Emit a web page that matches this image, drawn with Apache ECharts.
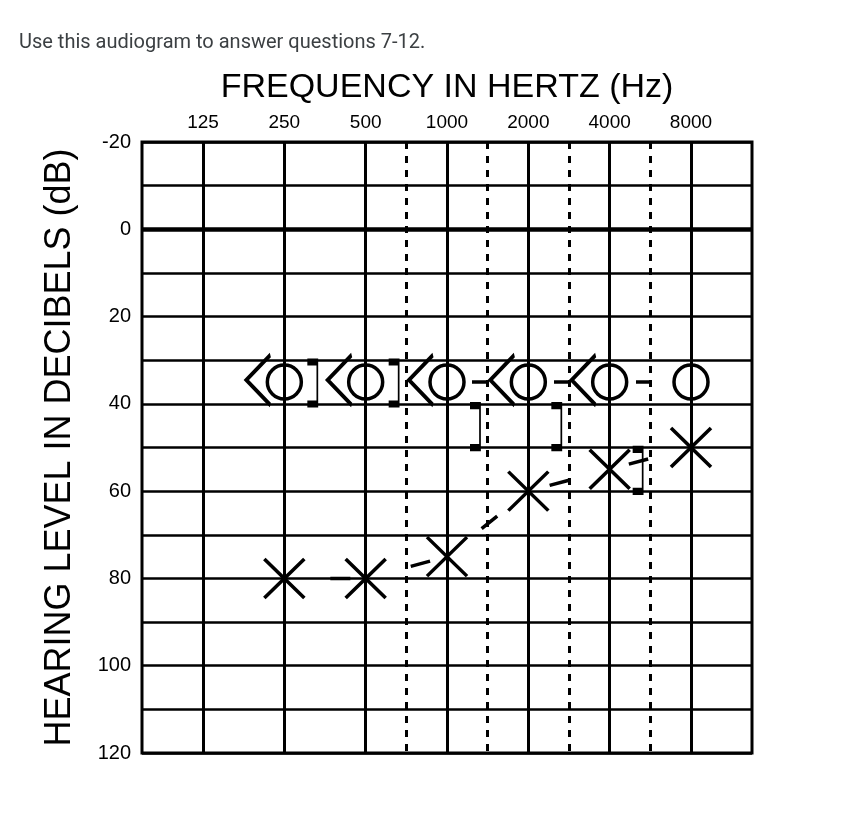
<!DOCTYPE html>
<html>
<head>
<meta charset="utf-8">
<script src="https://cdn.jsdelivr.net/npm/echarts@6/dist/echarts.min.js"></script>
<style>
  html, body { margin: 0; padding: 0; background: #fff; }
  #chart { width: 859px; height: 832px; }
</style>
</head>
<body>
<div id="chart"></div>
<script>
// frequencies, one per octave (x = octave index, 0 = 125 Hz)
var freqLabels = ['125', '250', '500', '1000', '2000', '4000', '8000'];
var octaves = [0, 1, 2, 3, 4, 5, 6];
var halfOctaves = [2.5, 3.5, 4.5, 5.5];   // 750, 1500, 3000, 6000 (dashed)

// hearing level in dB, '-' = not tested
var rightAir = ['-', 35, 35, 35, 35, 35, 35];           // O
var rightAirJoin = ['-', '-', '-', 35, 35, 35, 35];     // visible part of the O line
var rightBone = ['-', 35, 35, 35, 35, 35, '-'];         // <
var leftBoneMasked = ['-', 35, 35, 45, 45, 55, '-'];    // ]
var leftAir = ['-', 80, 80, 75, 60, 55, 50];            // X

function pairs(values) {
    var out = [];
    for (var i = 0; i < values.length; i++) {
        out.push([octaves[i], values[i]]);
    }
    return out;
}

var black = '#000';
var plotFont = "'Liberation Sans', 'DejaVu Sans', sans-serif";
// scatter defaults to 0.8 opacity, symbols here are solid black strokes
var markStyle = { color: 'rgba(0,0,0,0)', borderColor: black, borderWidth: 3.5, opacity: 1 };

var gridLines = [];
octaves.forEach(function (o) {
    gridLines.push({ xAxis: o, lineStyle: { type: 'solid', width: 3, color: black } });
});
halfOctaves.forEach(function (o) {
    gridLines.push({ xAxis: o, lineStyle: { type: [7, 7], width: 3, color: black } });
});
gridLines.push({ yAxis: 0, lineStyle: { type: 'solid', width: 4.5, color: black } });

var myChart = echarts.init(document.getElementById('chart'));

var option = {
    backgroundColor: '#fff',
    animation: false,
    title: {
        text: 'Use this audiogram to answer questions 7-12.',
        left: 19,
        top: 33,
        padding: 0,
        textStyle: {
            fontFamily: 'Roboto',
            fontSize: 20,
            fontWeight: 'normal',
            color: '#3c4043'
        }
    },
    grid: {
        left: 142,
        top: 142,
        width: 610,
        height: 611,
        show: true,
        borderColor: black,
        borderWidth: 3,
        backgroundColor: '#fff'
    },
    xAxis: {
        type: 'value',
        position: 'top',
        min: -0.75,
        max: 6.75,
        interval: 0.25,
        name: 'FREQUENCY IN HERTZ (Hz)',
        nameLocation: 'middle',
        nameGap: 37,
        nameTextStyle: { fontFamily: plotFont, fontSize: 34, color: black },
        axisLine: { show: false },
        axisTick: { show: false },
        splitLine: { show: false },
        axisLabel: {
            margin: 10,
            fontFamily: plotFont,
            fontSize: 19,
            color: black,
            formatter: function (v) {
                var r = Math.round(v);
                return Math.abs(v - r) < 1e-6 && r >= 0 && r < freqLabels.length ? freqLabels[r] : '';
            }
        }
    },
    yAxis: {
        type: 'value',
        inverse: true,
        min: -20,
        max: 120,
        interval: 10,
        name: 'HEARING LEVEL IN DECIBELS (dB)',
        nameLocation: 'middle',
        nameGap: 64,
        nameTextStyle: { fontFamily: plotFont, fontSize: 36, color: black },
        axisLine: { show: false },
        axisTick: { show: false },
        splitLine: { lineStyle: { color: black, width: 2.5 } },
        axisLabel: {
            margin: 11,
            fontFamily: plotFont,
            fontSize: 20,
            color: black,
            formatter: function (v) { return v % 20 === 0 ? String(v) : ''; }
        }
    },
    series: [
        {
            name: 'grid',
            type: 'line',
            data: [],
            silent: true,
            markLine: {
                silent: true,
                symbol: 'none',
                label: { show: false },
                data: gridLines
            }
        },
        {
            name: 'Right air line',
            type: 'line',
            data: pairs(rightAirJoin),
            showSymbol: false,
            lineStyle: { color: black, width: 3.5, type: [16, 66], dashOffset: 57 }
        },
        {
            name: 'Left air line',
            type: 'line',
            data: pairs(leftAir),
            showSymbol: false,
            lineStyle: { color: black, width: 3.5, type: [20, 62], dashOffset: 36 }
        },
        {
            name: 'Right air',
            type: 'scatter',
            data: pairs(rightAir),
            symbol: 'circle',
            symbolSize: 34,
            itemStyle: markStyle
        },
        {
            name: 'Right bone',
            type: 'scatter',
            data: pairs(rightBone),
            symbol: 'path://M24,0 L0,25 L24,50',
            symbolSize: [24, 50],
            symbolOffset: [-26, -2],
            itemStyle: markStyle
        },
        {
            name: 'Left bone masked',
            type: 'scatter',
            data: pairs(leftBoneMasked),
            symbol: 'path://M0,0 L10,0 L10,42 L0,42',
            symbolSize: [10, 42],
            symbolOffset: [28, 1],
            itemStyle: markStyle
        },
        {
            name: 'Left air',
            type: 'scatter',
            data: pairs(leftAir),
            symbol: 'path://M0,0 L40,40 M40,0 L0,40',
            symbolSize: [40, 39],
            itemStyle: markStyle
        }
    ]
};

myChart.setOption(option);
</script>
</body>
</html>
